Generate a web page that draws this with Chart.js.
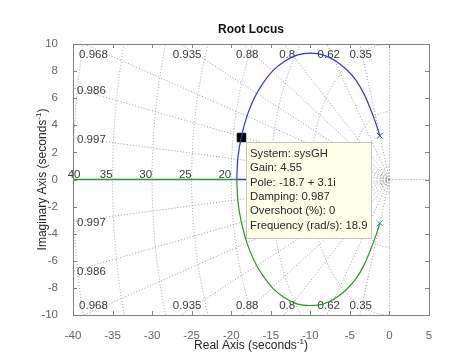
<!DOCTYPE html>
<html><head><meta charset="utf-8">
<script src="https://cdn.jsdelivr.net/npm/chart.js@4/dist/chart.umd.min.js"></script>
<style>html,body{margin:0;padding:0;background:#fff}#wrap{width:474px;height:355px}</style>
</head><body><div id="wrap"><canvas id="c" width="474" height="355"></canvas></div>
<script>
// ---- data ----
const xTicks = [-40,-35,-30,-25,-20,-15,-10,-5,0,5];
const yTicks = [-10,-8,-6,-4,-2,0,2,4,6,8,10];
const upperBranch = [[-1.22,3.23],[-1.75,4.2],[-2.4,5.2],[-3.2,6.3],[-4.2,7.3],[-5.4,8.1],[-6.8,8.75],[-8.4,9.2],[-10.0,9.33],[-11.6,9.2],[-13.2,8.75],[-14.7,8.05],[-16.0,7.1],[-17.1,6.0],[-18.0,4.7],[-18.7,3.2],[-19.15,1.65],[-19.3,0]];
const lowerBranch = [[-1.22,-3.23],[-1.75,-4.2],[-2.4,-5.2],[-3.2,-6.3],[-4.2,-7.3],[-5.4,-8.1],[-6.8,-8.75],[-8.4,-9.2],[-10.0,-9.3],[-11.6,-9.2],[-13.2,-8.75],[-14.7,-8.05],[-16.0,-7.1],[-17.1,-6.0],[-18.0,-4.7],[-18.7,-3.2],[-19.15,-1.65],[-19.3,0]];
const upperRealAxis = [[-19.3,0],[-10,0]];
const lowerRealAxis = [[-19.3,0],[-40,0]];
const upperPole = [[-1.22,3.23]];
const lowerPole = [[-1.22,-3.23]];
const zerosList = [[-10,0]];
const selectedPoint = [[-18.7,3.1]];
const dampingValues = [0.35,0.62,0.8,0.88,0.935,0.968,0.986,0.997];
const frequencyValues = [5,10,15,20,25,30,35,40];
const smallFrequencyValues = [0.5,1.0];
const tooltipLines = ['System: sysGH','Gain: 4.55','Pole: -18.7 + 3.1i','Damping: 0.987','Overshoot (%): 0','Frequency (rad/s): 18.9'];
const titleText = 'Root Locus';
const xTitle = ['Real Axis (seconds','-1',')'];
const yTitle = ['Imaginary Axis (seconds','-1',')'];

const FF = '"Liberation Sans", Arial, Helvetica, sans-serif';
const BLUE = 'rgb(50,50,230)';
const GREEN = 'rgb(40,150,40)';
const pts = a => a.map(p => ({x:p[0], y:p[1]}));

function drawSupText(ctx, parts, cx, cy, size){
  ctx.font = size+'px '+FF;
  const w0 = ctx.measureText(parts[0]).width;
  const w2 = ctx.measureText(parts[2]).width;
  ctx.font = Math.round(size*0.7)+'px '+FF;
  const w1 = ctx.measureText(parts[1]).width;
  const total = w0+w1+w2;
  let x0 = cx - total/2;
  const base = cy + size*0.35;
  ctx.textAlign='left'; ctx.textBaseline='alphabetic';
  ctx.font = size+'px '+FF; ctx.fillText(parts[0], x0, base);
  ctx.font = Math.round(size*0.7)+'px '+FF; ctx.fillText(parts[1], x0+w0, base - size*0.42);
  ctx.font = size+'px '+FF; ctx.fillText(parts[2], x0+w0+w1, base);
}

const sgrid = {
  id:'sgrid',
  beforeDatasetsDraw(chart){
    const {ctx, chartArea:a, scales:{x,y}} = chart;
    const ox = x.getPixelForValue(0), oy = y.getPixelForValue(0);
    const sx = Math.abs(x.getPixelForValue(1)-ox), sy = Math.abs(y.getPixelForValue(1)-oy);
    ctx.save();
    ctx.beginPath(); ctx.rect(a.left,a.top,a.right-a.left,a.bottom-a.top); ctx.clip();
    ctx.strokeStyle='#999999'; ctx.lineWidth=1; ctx.setLineDash([1,2]);
    [0, ...dampingValues].forEach(z=>{
      const th = Math.acos(z), R = 60;
      const ex = x.getPixelForValue(-R*Math.cos(th));
      [1,-1].forEach(s=>{
        ctx.beginPath(); ctx.moveTo(ox,oy);
        ctx.lineTo(ex, y.getPixelForValue(s*R*Math.sin(th))); ctx.stroke();
      });
    });
    ctx.beginPath(); ctx.moveTo(ox,oy); ctx.lineTo(a.right,oy); ctx.stroke();
    [...smallFrequencyValues, ...frequencyValues].forEach(w=>{
      ctx.beginPath(); ctx.ellipse(ox,oy,w*sx,w*sy,0,Math.PI/2,3*Math.PI/2); ctx.stroke();
    });
    ctx.restore();
    // labels
    ctx.save();
    ctx.setLineDash([]);
    ctx.fillStyle='#3a3a3a'; ctx.font='11.5px '+FF;
    const ymax = y.max;
    dampingValues.forEach(z=>{
      const t = Math.sqrt(1-z*z)/z;
      const xt = -(ymax-0.3)/t;
      const label = String(z);
      if (xt >= x.min){
        const px = x.getPixelForValue(xt);
        ctx.textAlign='center'; ctx.textBaseline='middle';
        ctx.fillText(label, px, a.top+11);
        ctx.fillText(label, px, a.bottom-9);
      } else {
        const xl = x.min+0.5;
        const yl = -xl*t;
        ctx.textAlign='left'; ctx.textBaseline='middle';
        ctx.fillText(label, a.left+4, y.getPixelForValue(yl)+1.5);
        ctx.fillText(label, a.left+4, y.getPixelForValue(-yl)+1.5);
      }
    });
    frequencyValues.forEach(w=>{
      let px = x.getPixelForValue(-w);
      px = Math.max(px, a.left+7.5);
      ctx.textAlign='right'; ctx.textBaseline='alphabetic';
      ctx.fillText(String(w), px, oy-2);
    });
    ctx.restore();
  },
  afterDatasetsDraw(chart){
    const {ctx} = chart;
    ctx.save();
    const bx=246.5, by=142.5, bw=125, bh=96;
    ctx.fillStyle='#ffffe8'; ctx.fillRect(bx,by,bw,bh);
    ctx.strokeStyle='#c4c4c4'; ctx.lineWidth=1; ctx.strokeRect(bx,by,bw,bh);
    ctx.fillStyle='#262626'; ctx.font='11.3px '+FF; ctx.textAlign='left'; ctx.textBaseline='middle';
    tooltipLines.forEach((t,i)=>ctx.fillText(t, 250, 154+i*14.3));
    ctx.restore();
  },
  afterDraw(chart){
    const {ctx, chartArea:a, scales:{x,y}} = chart;
    ctx.save();
    ctx.strokeStyle='#808080'; ctx.lineWidth=1;
    ctx.strokeRect(Math.round(a.left)+0.5, Math.round(a.top)+0.5, Math.round(a.right-a.left), Math.round(a.bottom-a.top));
    const L=4;
    ctx.beginPath();
    xTicks.forEach(v=>{
      const px = Math.round(x.getPixelForValue(v))+0.5;
      ctx.moveTo(px,a.bottom); ctx.lineTo(px,a.bottom-L);
      ctx.moveTo(px,a.top); ctx.lineTo(px,a.top+L);
    });
    yTicks.forEach(v=>{
      const py = Math.round(y.getPixelForValue(v))+0.5;
      ctx.moveTo(a.left,py); ctx.lineTo(a.left+L,py);
      ctx.moveTo(a.right,py); ctx.lineTo(a.right-L,py);
    });
    ctx.stroke();
    ctx.fillStyle='#111'; ctx.font='bold 12px '+FF; ctx.textAlign='center'; ctx.textBaseline='middle';
    ctx.fillText(titleText, (a.left+a.right)/2, 30);
    ctx.fillStyle='#262626';
    drawSupText(ctx, xTitle, (a.left+a.right)/2, 345, 12);
    ctx.save();
    ctx.translate(42, (a.top+a.bottom)/2); ctx.rotate(-Math.PI/2);
    drawSupText(ctx, yTitle, 0, 0, 12);
    ctx.restore();
    ctx.restore();
  }
};

const tickFont = {family: FF, size: 11.5};
new Chart(document.getElementById('c'), {
  type:'scatter',
  data:{datasets:[
    {data:pts(lowerRealAxis), showLine:true, borderColor:GREEN, borderWidth:1.4, pointRadius:0},
    {data:pts(lowerBranch), showLine:true, borderColor:GREEN, borderWidth:1.2, pointRadius:0, tension:0.3},
    {data:pts(upperRealAxis), showLine:true, borderColor:BLUE, borderWidth:1.4, pointRadius:0},
    {data:pts(upperBranch), showLine:true, borderColor:BLUE, borderWidth:1.2, pointRadius:0, tension:0.3},
    {data:pts(upperPole), pointStyle:'crossRot', pointRadius:4, borderColor:BLUE, borderWidth:1},
    {data:pts(lowerPole), pointStyle:'crossRot', pointRadius:4, borderColor:'rgb(50,140,200)', borderWidth:1},
    {data:pts(zerosList), pointStyle:'circle', pointRadius:3.5, borderColor:BLUE, backgroundColor:'rgba(0,0,0,0)', borderWidth:1},
    {data:pts(selectedPoint), pointStyle:'rect', pointRadius:6, borderColor:'#000', backgroundColor:'#000', borderWidth:1}
  ]},
  options:{
    responsive:false, animation:false, devicePixelRatio:1,
    layout:{padding:{left:0,right:45,top:44,bottom:0}},
    plugins:{legend:{display:false}, tooltip:{enabled:false}, title:{display:false}},
    scales:{
      x:{type:'linear', min:-40, max:5,
        afterBuildTicks:s=>{s.ticks = xTicks.map(v=>({value:v}));},
        grid:{display:false}, border:{display:false},
        ticks:{font:tickFont, color:'#666666', padding:6, maxRotation:0, autoSkip:false},
        afterFit:s=>{s.height=40;}},
      y:{type:'linear', min:-10, max:10,
        afterBuildTicks:s=>{s.ticks = yTicks.map(v=>({value:v}));},
        grid:{display:false}, border:{display:false},
        ticks:{font:tickFont, color:'#666666', padding:7, autoSkip:false},
        afterFit:s=>{s.width=73;}}
    }
  },
  plugins:[sgrid]
});
</script></body></html>
